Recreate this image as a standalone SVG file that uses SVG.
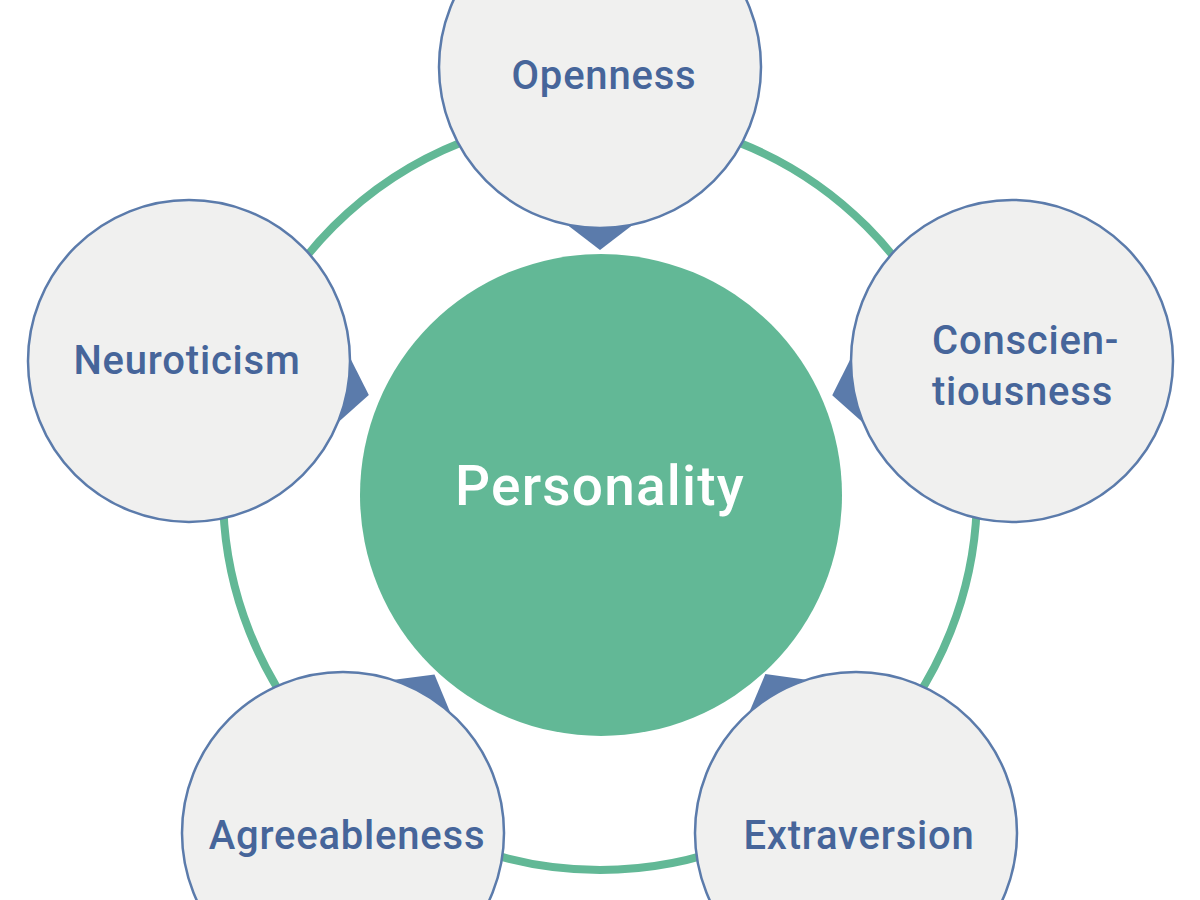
<svg xmlns="http://www.w3.org/2000/svg" width="1200" height="900" viewBox="0 0 1200 900">
  <style>
    .ring { fill: none; stroke: #62b896; stroke-width: 8; }
    .node { fill: #f0f0ef; stroke: #5b7bab; stroke-width: 2.5; }
    .ptr { fill: #5b7bab; }
    .lbl { font-family: Roboto, "Liberation Sans", sans-serif; font-weight: 500; font-size: 40px; letter-spacing: 0.8px; fill: #46659a; }
    .core { fill: #62b896; }
    .core-lbl { font-family: Roboto, "Liberation Sans", sans-serif; font-weight: 500; font-size: 55px; letter-spacing: 1.2px; fill: #ffffff; }
  </style>
  <defs>
    <polygon id="pointer" points="183,0 150,-43 150,43"/>
  </defs>
  <rect width="1200" height="900" fill="#ffffff"/>
  <g id="connectors">
    <circle class="ring" cx="600" cy="493" r="377"/>
    <use href="#pointer" class="ptr" transform="translate(600,67) rotate(90)"/>
    <use href="#pointer" class="ptr" transform="translate(1012,361) rotate(169.2)"/>
    <use href="#pointer" class="ptr" transform="translate(189,361) rotate(10.7)"/>
    <use href="#pointer" class="ptr" transform="translate(343,833) rotate(-60)"/>
    <use href="#pointer" class="ptr" transform="translate(856,833) rotate(-119.7)"/>
  </g>
  <g id="personality">
    <circle class="core" cx="601" cy="495" r="241"/>
    <text class="core-lbl" x="600" y="505" text-anchor="middle">Personality</text>
  </g>
  <g id="openness">
    <circle class="node" cx="600" cy="67" r="161"/>
    <text class="lbl" x="604" y="89" text-anchor="middle">Openness</text>
  </g>
  <g id="conscientiousness">
    <circle class="node" cx="1012" cy="361" r="161"/>
    <text class="lbl" x="932" y="354">Conscien-</text>
    <text class="lbl" x="932" y="405">tiousness</text>
  </g>
  <g id="neuroticism">
    <circle class="node" cx="189" cy="361" r="161"/>
    <text class="lbl" x="187" y="374" text-anchor="middle">Neuroticism</text>
  </g>
  <g id="agreeableness">
    <circle class="node" cx="343" cy="833" r="161"/>
    <text class="lbl" x="347" y="849" text-anchor="middle">Agreeableness</text>
  </g>
  <g id="extraversion">
    <circle class="node" cx="856" cy="833" r="161"/>
    <text class="lbl" x="859" y="849" text-anchor="middle">Extraversion</text>
  </g>
</svg>
